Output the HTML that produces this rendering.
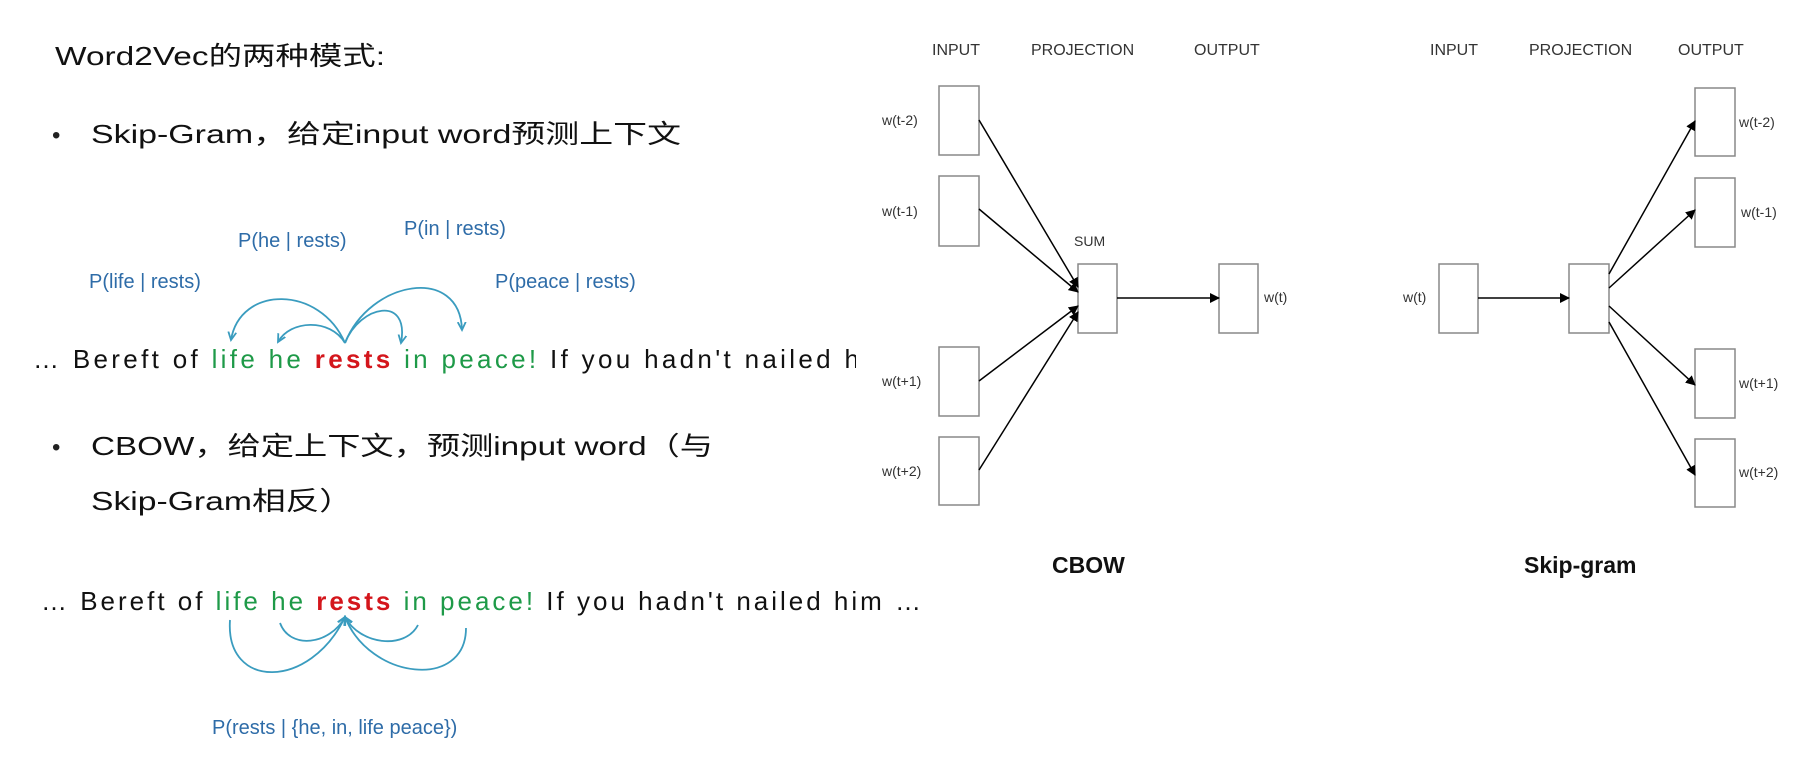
<!DOCTYPE html>
<html><head><meta charset="utf-8"><style>
html,body{margin:0;padding:0;background:#fff;width:1818px;height:758px;overflow:hidden}
svg{display:block}
</style></head><body>
<svg width="1818" height="758" viewBox="0 0 1818 758" xmlns="http://www.w3.org/2000/svg">
<defs>
<marker id="ab" markerWidth="10" markerHeight="10" refX="9" refY="5" orient="auto" markerUnits="userSpaceOnUse"><path d="M0,0 L10,5 L0,10 Z" fill="#000"/></marker>
<marker id="at" markerWidth="10" markerHeight="10" refX="8" refY="5" orient="auto" markerUnits="userSpaceOnUse"><path d="M0,1 L8,5 L0,9" fill="none" stroke="#3a9cbf" stroke-width="1.8"/></marker>
<clipPath id="c1"><rect x="0" y="320" width="856" height="80"/></clipPath>
</defs>
<g font-family="'Liberation Sans','Noto Sans CJK SC',sans-serif">
<text x="55" y="65" font-size="26" fill="#111" textLength="330" lengthAdjust="spacingAndGlyphs">Word2Vec的两种模式:</text>
<text x="52" y="143" font-size="24" fill="#222">•</text>
<text x="91" y="143" font-size="26" fill="#111" textLength="590" lengthAdjust="spacingAndGlyphs">Skip-Gram，给定input word预测上下文</text>
<g font-size="20" fill="#2e6ca8">
<text x="238" y="247">P(he | rests)</text>
<text x="404" y="235">P(in | rests)</text>
<text x="89" y="288">P(life | rests)</text>
<text x="495" y="288">P(peace | rests)</text>
<text x="212" y="734">P(rests | {he, in, life peace})</text>
</g>
<g fill="none" stroke="#3a9cbf" stroke-width="1.8" marker-end="url(#at)">
<path d="M345,343 C320,285 240,285 231,340"/>
<path d="M345,343 C330,318 290,320 278,342"/>
<path d="M345,343 C360,305 410,295 401,343"/>
<path d="M345,343 C370,280 460,265 462,330"/>
<path d="M230,620 C225,690 310,690 345,617"/>
<path d="M280,623 C290,650 330,645 345,617"/>
<path d="M418,625 C405,650 360,645 345,617"/>
<path d="M466,628 C466,690 370,680 345,617"/>
</g>
<g clip-path="url(#c1)">
<text x="33" y="368" font-size="26" fill="#111" textLength="860" lengthAdjust="spacing">… Bereft of <tspan fill="#1e9a48">life he </tspan><tspan fill="#d4161c" font-weight="bold">rests</tspan><tspan fill="#1e9a48"> in peace!</tspan> If you hadn't nailed him</text>
</g>
<text x="52" y="455" font-size="24" fill="#222">•</text>
<text x="91" y="455" font-size="26" fill="#111" textLength="622" lengthAdjust="spacingAndGlyphs">CBOW，给定上下文，预测input word（与</text>
<text x="91" y="510" font-size="26" fill="#111" textLength="262" lengthAdjust="spacingAndGlyphs">Skip-Gram相反）</text>
<text x="41" y="610" font-size="26" fill="#111" textLength="880" lengthAdjust="spacing">… Bereft of <tspan fill="#1e9a48">life he </tspan><tspan fill="#d4161c" font-weight="bold">rests</tspan><tspan fill="#1e9a48"> in peace!</tspan> If you hadn't nailed him …</text>

<g font-size="16" fill="#333">
<text x="932" y="55">INPUT</text>
<text x="1031" y="55">PROJECTION</text>
<text x="1194" y="55">OUTPUT</text>
<text x="1430" y="55">INPUT</text>
<text x="1529" y="55">PROJECTION</text>
<text x="1678" y="55">OUTPUT</text>
</g>
<g font-size="14" fill="#333">
<text x="882" y="125">w(t-2)</text>
<text x="882" y="216">w(t-1)</text>
<text x="882" y="386">w(t+1)</text>
<text x="882" y="476">w(t+2)</text>
<text x="1074" y="246">SUM</text>
<text x="1264" y="302">w(t)</text>
<text x="1403" y="302">w(t)</text>
<text x="1739" y="127">w(t-2)</text>
<text x="1741" y="217">w(t-1)</text>
<text x="1739" y="388">w(t+1)</text>
<text x="1739" y="477">w(t+2)</text>
</g>
<g fill="#fff" stroke="#888" stroke-width="1.5">
<rect x="939" y="86" width="40" height="69"/>
<rect x="939" y="176" width="40" height="70"/>
<rect x="939" y="347" width="40" height="69"/>
<rect x="939" y="437" width="40" height="68"/>
<rect x="1078" y="264" width="39" height="69"/>
<rect x="1219" y="264" width="39" height="69"/>
<rect x="1439" y="264" width="39" height="69"/>
<rect x="1569" y="264" width="40" height="69"/>
<rect x="1695" y="88" width="40" height="68"/>
<rect x="1695" y="178" width="40" height="69"/>
<rect x="1695" y="349" width="40" height="69"/>
<rect x="1695" y="439" width="40" height="68"/>
</g>
<g stroke="#000" stroke-width="1.5" marker-end="url(#ab)">
<line x1="979" y1="120" x2="1078" y2="287"/>
<line x1="979" y1="209" x2="1078" y2="292"/>
<line x1="979" y1="381" x2="1078" y2="306"/>
<line x1="979" y1="470" x2="1078" y2="312"/>
<line x1="1117" y1="298" x2="1219" y2="298"/>
<line x1="1478" y1="298" x2="1569" y2="298"/>
<line x1="1609" y1="274" x2="1695" y2="121"/>
<line x1="1609" y1="288" x2="1695" y2="210"/>
<line x1="1609" y1="306" x2="1695" y2="385"/>
<line x1="1609" y1="322" x2="1695" y2="475"/>
</g>
<text x="1052" y="573" font-size="23" font-weight="bold" fill="#111">CBOW</text>
<text x="1524" y="573" font-size="23" font-weight="bold" fill="#111">Skip-gram</text>
</g>
</svg>
</body></html>
